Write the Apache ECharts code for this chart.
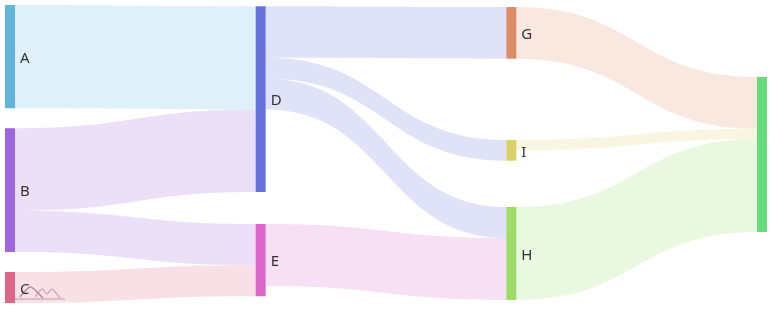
<!DOCTYPE html>
<html><head><meta charset="utf-8">
<script src="https://cdn.jsdelivr.net/npm/echarts@6/dist/echarts.min.js"></script>
<style>html,body{margin:0;padding:0;background:#fff}#c{width:770px;height:331px}</style>
</head><body><div id="c"></div>
<script>
var nodeNames = ['A','B','C','D','E','G','I','H','F'];
var nodeColors = ['#5fb5dc','#9d66dc','#dc6688','#6671dc','#dc66c9','#dd8a66','#dccf66','#9ddc66','#66dc7a'];
var linkSources = ['A','B','B','C','D','D','D','E','G','I','H'];
var linkTargets = ['D','D','E','E','G','I','H','H','F','F','F'];
var linkValues  = [10, 8, 4, 3, 5, 2, 3, 6, 5, 1, 9];

// layout hints (fraction of the sankey layout height) for nodes that were placed by hand in the original
var nodeLayoutY = {D:0.004, E:0.735, G:0.007, I:0.453, H:0.678, F:0.242};

var nodes = nodeNames.map(function(n,i){
  var o = {name:n, itemStyle:{color:nodeColors[i]}};
  if (nodeLayoutY[n] != null) o.localY = nodeLayoutY[n];
  return o;
});
var links = linkSources.map(function(s,i){return {source:s, target:linkTargets[i], value:linkValues[i]};});

var chart = echarts.init(document.getElementById('c'));
chart.setOption({
  animation:false,
  series:[{
    type:'sankey',
    left:5, right:3, top:5, bottom:28,
    nodeWidth:10, nodeGap:20,
    layoutIterations:0,
    data:nodes, links:links,
    label:{show:true, position:'right', color:'#333', fontSize:15, fontFamily:'Noto Sans', offset:[0,2]},
    itemStyle:{borderWidth:0},
    lineStyle:{color:'source', opacity:0.2, curveness:0.5}
  }],
  graphic:[
    {type:'polyline', shape:{points:[[11,299],[65,299]]}, style:{stroke:'#d3c6cc', lineWidth:1.5, fill:null}},
    {type:'polyline', shape:{points:[[35,297],[39,292],[42,289],[45,292],[47,294],[49,292],[52,289],[56,293],[60,298]], smooth:0.4}, style:{stroke:'#cdbfc5', lineWidth:1.5, fill:null}},
    {type:'polyline', shape:{points:[[20,297],[25,291],[30,287],[34,289],[38,293],[43,298]], smooth:0.4}, style:{stroke:'#ad9ba2', lineWidth:1.5, fill:null}}
  ]
});
</script></body></html>
